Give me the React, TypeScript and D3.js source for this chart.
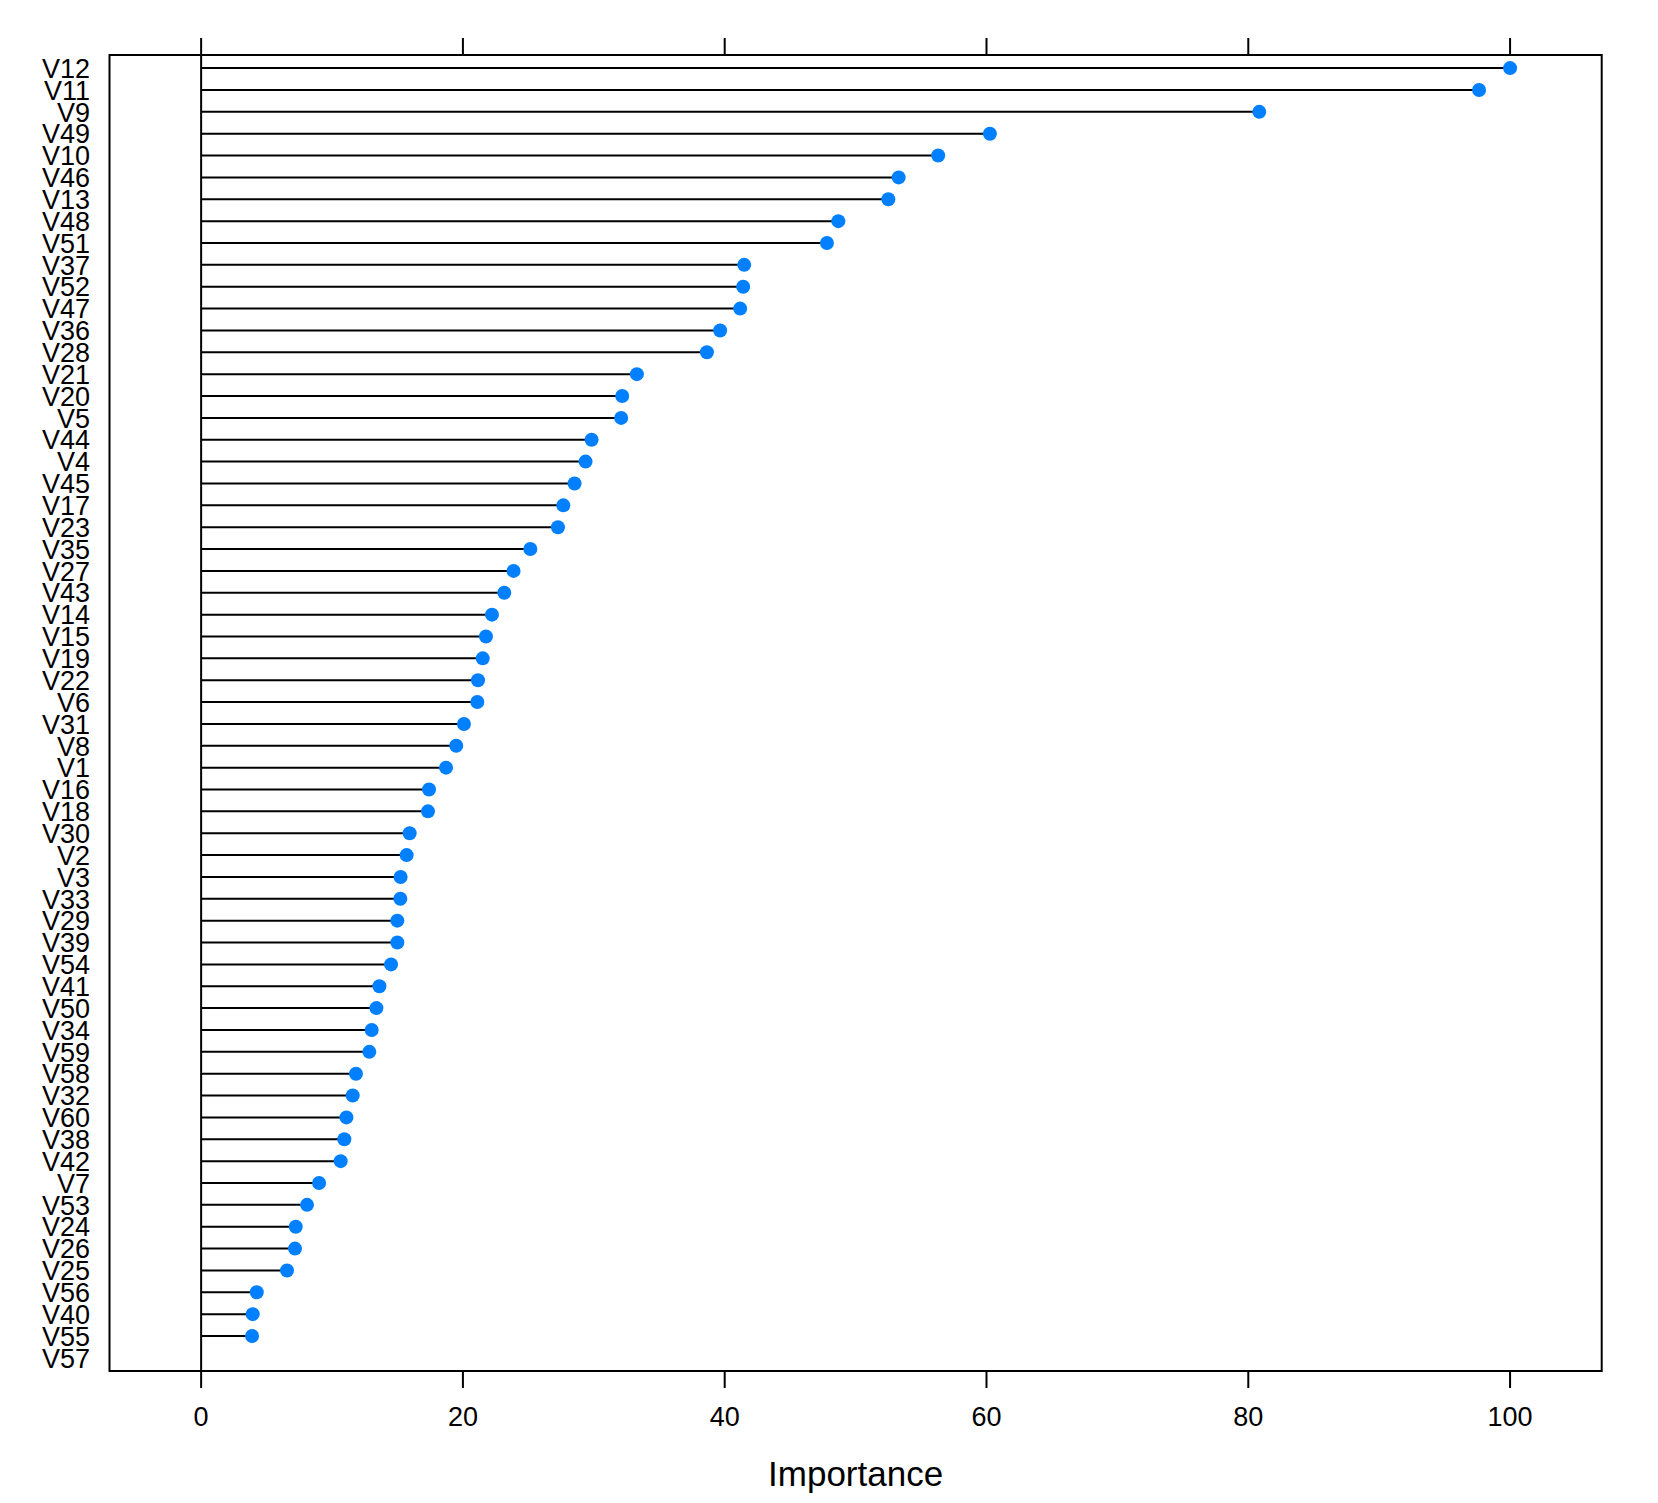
import React from "react";
import * as d3 from "d3";

const variables = [
  "V12","V11","V9","V49","V10","V46","V13","V48","V51","V37",
  "V52","V47","V36","V28","V21","V20","V5","V44","V4","V45",
  "V17","V23","V35","V27","V43","V14","V15","V19","V22","V6",
  "V31","V8","V1","V16","V18","V30","V2","V3","V33","V29",
  "V39","V54","V41","V50","V34","V59","V58","V32","V60","V38",
  "V42","V7","V53","V24","V26","V25","V56","V40","V55","V57",
];

const importance = [
  100, 97.63, 80.84, 60.26, 56.31, 53.29, 52.5, 48.68, 47.81, 41.49,
  41.41, 41.18, 39.65, 38.64, 33.29, 32.17, 32.09, 29.83, 29.37, 28.53,
  27.67, 27.26, 25.15, 23.87, 23.16, 22.22, 21.76, 21.51, 21.15, 21.1,
  20.08, 19.49, 18.71, 17.41, 17.33, 15.93, 15.7, 15.24, 15.22, 14.99,
  14.99, 14.51, 13.62, 13.39, 13.03, 12.85, 11.83, 11.58, 11.1, 10.94,
  10.66, 9.01, 8.09, 7.23, 7.17, 6.56, 4.25, 3.94, 3.89, 0,
];

const xTicks = [0, 20, 40, 60, 80, 100];
const xTitle = "Importance";

export default function App() {
  const W = 1658, H = 1503;
  const left = 109.5, right = 1601.7, top = 55, bottom = 1371;
  const x = d3.scaleLinear().domain([-7, 107]).range([left, right]);
  const y = d3.scalePoint<string>().domain(variables).range([top, bottom]).padding(0.6);
  const font = "'Liberation Sans', Arial, Helvetica, sans-serif";
  const labelSize = 27;
  const tickLen = 17;

  return (
    <svg width={W} height={H} style={{ position: "absolute", left: 0, top: 0, background: "#fff" }}
      fontFamily={font}>
      <rect x={0} y={0} width={W} height={H} fill="#fff" />
      {/* lollipop stems */}
      {variables.map((v, i) => (
        <line key={"s" + v} x1={x(0)} x2={x(importance[i])} y1={y(v)!} y2={y(v)!}
          stroke="#000" strokeWidth={2} />
      ))}
      {/* zero reference line */}
      <line x1={x(0)} x2={x(0)} y1={top} y2={bottom} stroke="#000" strokeWidth={2} />
      {/* dots */}
      {variables.map((v, i) => importance[i] > 0 ? (
        <circle key={"p" + v} cx={x(importance[i])} cy={y(v)!} r={7} fill="#0080ff" />
      ) : null)}
      {/* box */}
      <rect x={left} y={top} width={right - left} height={bottom - top} fill="none" stroke="#000" strokeWidth={2} />
      {/* ticks */}
      {xTicks.map(t => (
        <g key={"t" + t}>
          <line x1={x(t)} x2={x(t)} y1={top} y2={top - tickLen} stroke="#000" strokeWidth={2} />
          <line x1={x(t)} x2={x(t)} y1={bottom} y2={bottom + tickLen} stroke="#000" strokeWidth={2} />
          <text x={x(t)} y={1426} textAnchor="middle" fontSize={labelSize} fill="#000">{t}</text>
        </g>
      ))}
      {/* y labels */}
      {variables.map(v => (
        <text key={"l" + v} x={90} y={y(v)! + labelSize * 0.36} textAnchor="end" fontSize={labelSize} fill="#000">{v}</text>
      ))}
      <text x={(left + right) / 2} y={1486} textAnchor="middle" fontSize={35} fill="#000">{xTitle}</text>
    </svg>
  );
}
